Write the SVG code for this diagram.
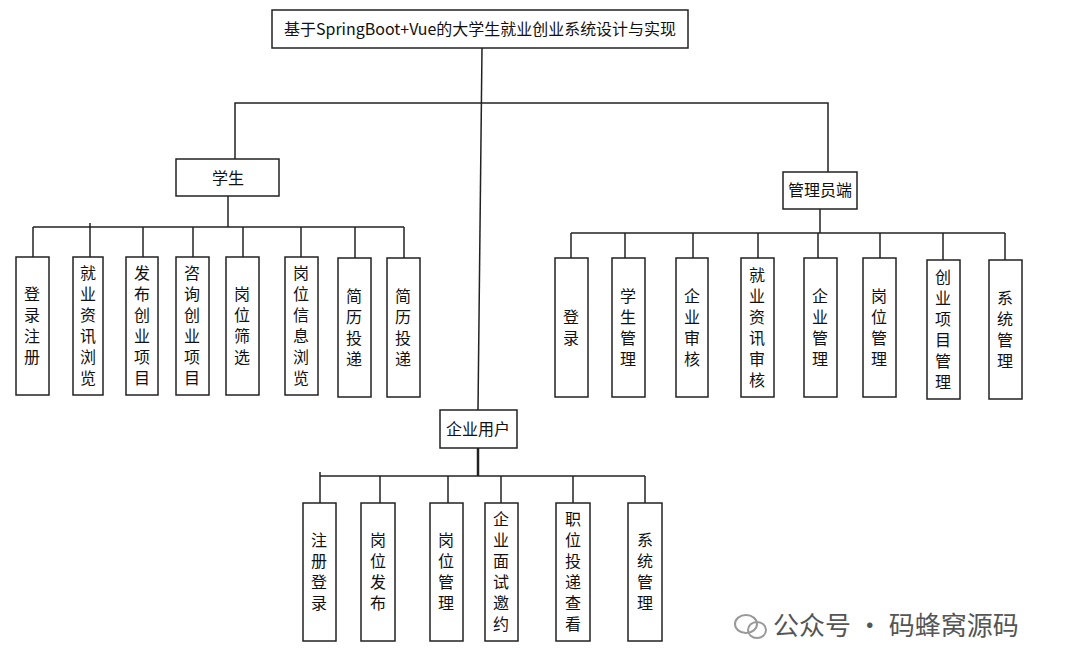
<svg xmlns="http://www.w3.org/2000/svg" width="1080" height="669" viewBox="0 0 1080 669">
<style>
rect{fill:#fff;stroke:#222;stroke-width:1.5}
text{font-family:"Noto Sans CJK SC","Liberation Sans",sans-serif;font-size:16px;fill:#111;text-anchor:middle}
.t{font-size:15.5px}
.v{writing-mode:vertical-rl;letter-spacing:5px}
.c line,.c polyline{stroke:#222;stroke-width:1.5;fill:none}
.wm{fill:#555;font-size:26px;text-anchor:start}
</style>
<rect width="1080" height="669" style="fill:#fff;stroke:none"/>
<g class="c" id="connectors">
<line x1="482" y1="48" x2="478" y2="410"/>
<polyline points="235,159 235,103 828,103 828,172"/>
<line x1="228" y1="196" x2="228" y2="227"/>
<line x1="33" y1="227" x2="404" y2="227"/>
<line x1="33" y1="227" x2="33" y2="257"/><line x1="90" y1="223" x2="90" y2="257"/><line x1="143" y1="227" x2="143" y2="257"/><line x1="193" y1="227" x2="193" y2="257"/><line x1="243" y1="227" x2="243" y2="257"/><line x1="301" y1="227" x2="301" y2="257"/><line x1="355" y1="227" x2="355" y2="258"/><line x1="404" y1="227" x2="404" y2="258"/>
<line x1="820" y1="209" x2="820" y2="233"/>
<line x1="571" y1="233" x2="1005" y2="233"/>
<line x1="571" y1="233" x2="571" y2="258"/><line x1="625" y1="233" x2="625" y2="258"/><line x1="693" y1="233" x2="693" y2="258"/><line x1="758" y1="233" x2="758" y2="258"/><line x1="818" y1="233" x2="818" y2="258"/><line x1="880" y1="233" x2="880" y2="258"/><line x1="943" y1="233" x2="943" y2="260"/><line x1="1005" y1="233" x2="1005" y2="260"/>
<line x1="478" y1="448" x2="478" y2="476" style="stroke-width:2.5"/>
<line x1="320" y1="476" x2="645" y2="476"/>
<line x1="320" y1="472" x2="320" y2="503"/><line x1="380" y1="476" x2="380" y2="503"/><line x1="448" y1="476" x2="448" y2="503"/><line x1="501" y1="476" x2="501" y2="503"/><line x1="573" y1="476" x2="573" y2="503"/><line x1="645" y1="476" x2="645" y2="503"/>
</g>
<g id="root"><rect x="272" y="10" width="416" height="38"/><text x="480" y="35" class="t" textLength="392" lengthAdjust="spacingAndGlyphs">基于SpringBoot+Vue的大学生就业创业系统设计与实现</text></g>
<g id="student"><rect x="176" y="159" width="103" height="37"/><text x="228" y="184">学生</text></g>
<g id="admin"><rect x="783" y="172" width="74" height="37"/><text x="820" y="196">管理员端</text></g>
<g id="company"><rect x="440" y="410" width="77" height="38"/><text x="478" y="435">企业用户</text></g>

<g id="s1"><rect x="16" y="257" width="33" height="138"/><text class="v" x="32" y="328">登录注册</text></g>
<g id="s2"><rect x="73" y="257" width="30" height="138"/><text class="v" x="88" y="328">就业资讯浏览</text></g>
<g id="s3"><rect x="126" y="257" width="32" height="138"/><text class="v" x="142" y="328">发布创业项目</text></g>
<g id="s4"><rect x="176" y="257" width="33" height="138"/><text class="v" x="192" y="328">咨询创业项目</text></g>
<g id="s5"><rect x="226" y="257" width="33" height="138"/><text class="v" x="242" y="328">岗位筛选</text></g>
<g id="s6"><rect x="285" y="257" width="33" height="138"/><text class="v" x="301" y="328">岗位信息浏览</text></g>
<g id="s7"><rect x="338" y="258" width="33" height="139"/><text class="v" x="354" y="330">简历投递</text></g>
<g id="s8"><rect x="387" y="258" width="33" height="139"/><text class="v" x="403" y="330">简历投递</text></g>

<g id="a1"><rect x="555" y="258" width="33" height="139"/><text class="v" x="571" y="330">登录</text></g>
<g id="a2"><rect x="612" y="258" width="33" height="139"/><text class="v" x="628" y="330">学生管理</text></g>
<g id="a3"><rect x="676" y="258" width="32" height="139"/><text class="v" x="692" y="330">企业审核</text></g>
<g id="a4"><rect x="741" y="258" width="33" height="139"/><text class="v" x="757" y="330">就业资讯审核</text></g>
<g id="a5"><rect x="804" y="258" width="33" height="139"/><text class="v" x="820" y="330">企业管理</text></g>
<g id="a6"><rect x="863" y="258" width="33" height="139"/><text class="v" x="879" y="330">岗位管理</text></g>
<g id="a7"><rect x="927" y="260" width="33" height="139"/><text class="v" x="943" y="332">创业项目管理</text></g>
<g id="a8"><rect x="989" y="260" width="33" height="139"/><text class="v" x="1005" y="332">系统管理</text></g>

<g id="c1"><rect x="303" y="503" width="33" height="138"/><text class="v" x="319" y="574">注册登录</text></g>
<g id="c2"><rect x="361" y="503" width="34" height="138"/><text class="v" x="378" y="574">岗位发布</text></g>
<g id="c3"><rect x="430" y="503" width="33" height="138"/><text class="v" x="446" y="574">岗位管理</text></g>
<g id="c4"><rect x="485" y="503" width="33" height="138"/><text class="v" x="501" y="574">企业面试邀约</text></g>
<g id="c5"><rect x="556" y="503" width="34" height="138"/><text class="v" x="573" y="574">职位投递查看</text></g>
<g id="c6"><rect x="628" y="503" width="34" height="138"/><text class="v" x="645" y="574">系统管理</text></g>

<g id="watermark"><ellipse cx="746" cy="624" rx="11" ry="9" style="fill:none;stroke:#999;stroke-width:2"/><ellipse cx="757" cy="630" rx="9" ry="8" style="fill:none;stroke:#999;stroke-width:2"/><text class="wm" x="773" y="635">公众号 · 码蜂窝源码</text></g>
</svg>
